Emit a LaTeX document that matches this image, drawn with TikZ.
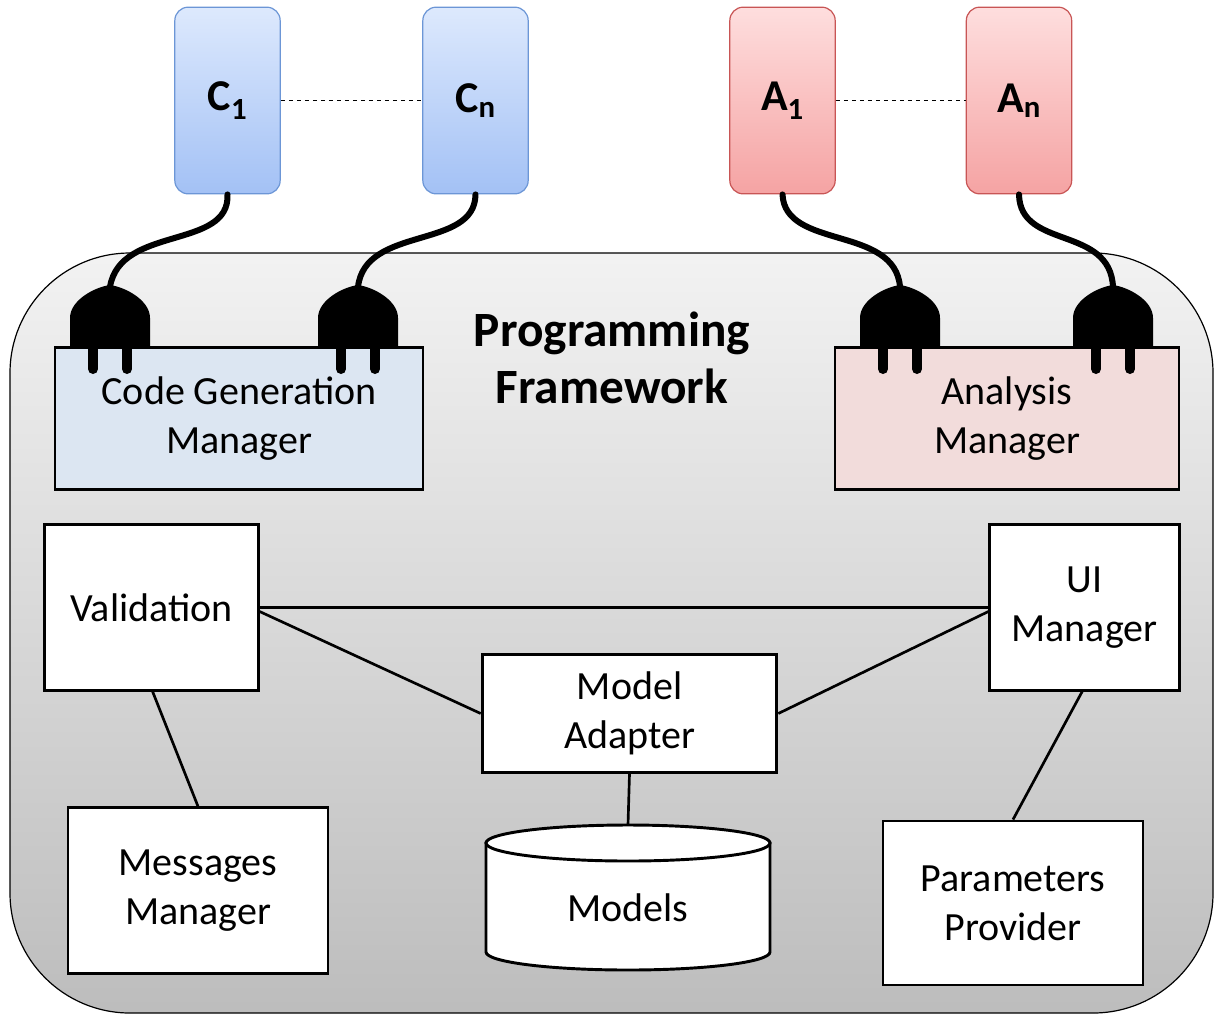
\documentclass[tikz,border=0pt]{standalone}
\usepackage{fontspec}
\setmainfont{Carlito}
\begin{document}
\begin{tikzpicture}[x=0.75pt,y=-0.75pt,
 box/.style={draw,line width=2.2pt,fill=white,align=center,font=\fontsize{30}{37}\selectfont,inner sep=0},
 mod/.style={rounded corners=10pt,line width=0.9pt,minimum width=79pt,minimum height=140pt,font=\fontsize{33}{36}\selectfont\bfseries},
 cable/.style={line width=4.5pt,line cap=round},
 link/.style={line width=2pt}]
\useasboundingbox (0,0) rectangle (1223,1022);
\definecolor{bt}{HTML}{DDE9FD}\definecolor{bb}{HTML}{A3C1F5}
\definecolor{rt}{HTML}{FEDEDE}\definecolor{rb}{HTML}{F5A3A3}
\definecolor{bd}{HTML}{6C96D6}\definecolor{rd}{HTML}{C85555}
% frame
\draw[line width=0.9pt,rounded corners=90pt,top color=black!5,bottom color=black!26] (10,253) rectangle (1213,1013);
% modules
\node[mod,draw=bd,top color=bt,bottom color=bb] (c1) at (227.5,100.5) {\raisebox{-5pt}{C$_{\mathbf 1}$}};
\node[mod,draw=bd,top color=bt,bottom color=bb] (cn) at (475.5,100.5) {\raisebox{-5pt}{C$_{\mathbf n}$}};
\node[mod,draw=rd,top color=rt,bottom color=rb] (a1) at (782.5,100.5) {\raisebox{-5pt}{A$_{\mathbf 1}$}};
\node[mod,draw=rd,top color=rt,bottom color=rb] (an) at (1019,100.5) {\raisebox{-5pt}{A$_{\mathbf n}$}};
\draw[dashed,line width=0.7pt] (c1) -- (cn);
\draw[dashed,line width=0.7pt] (a1) -- (an);
% managers
\node[box,fill={rgb,255:red,220;green,230;blue,242},minimum width=276pt,minimum height=107pt] (cgm) at (239,418.5) {Code Generation\\Manager};
\node[box,fill={rgb,255:red,242;green,220;blue,219},minimum width=258pt,minimum height=107pt] (am) at (1007,418.5) {Analysis\\Manager};
% plugs
\foreach \n/\x in {p1/110,p2/358,p3/900,p4/1113}{
 \fill (\x-40,347) -- (\x-40,318) .. controls (\x-40,300) and (\x-15,287) .. (\x,285) .. controls (\x+15,287) and (\x+40,300) .. (\x+40,318) -- (\x+40,347) -- cycle;
 \draw[line width=7.5pt,line cap=round] (\x-17,345) -- (\x-17,369) (\x+17,345) -- (\x+17,369);
 \coordinate (\n) at (\x,287);
}
\draw[cable] (c1.south) .. controls (230,250) and (120,225) .. (p1);
\draw[cable] (cn.south) .. controls (475,250) and (365,225) .. (p2);
\draw[cable] (a1.south) .. controls (785,250) and (895,225) .. (p3);
\draw[cable] (an.south) .. controls (1020,250) and (1110,225) .. (p4);
\node[font=\fontsize{37}{43}\selectfont\bfseries,align=center] (title) at (612,358) {Programming\\Framework};
% lower
\node[box,minimum width=160pt,minimum height=124pt] (val) at (151.5,607.5) {Validation};
\node[box,minimum width=142pt,minimum height=124pt] (ui) at (1084.5,607.5) {UI\\Manager};
\node[box,minimum width=221pt,minimum height=88pt] (ma) at (629.5,713.5) {Model\\Adapter};
\node[box,minimum width=195pt,minimum height=124pt] (mm) at (198,890.5) {Messages\\Manager};
\node[box,minimum width=195pt,minimum height=123pt] (pp) at (1013,903) {Parameters\\Provider};
\coordinate (mtop) at (628,825);
\draw[line width=2.2pt,fill=white] (486,843) -- (486,952) arc[start angle=180,end angle=0,x radius=142,y radius=18] -- (770,843) -- cycle;
\draw[line width=2.2pt,fill=white] (628,843) ellipse[x radius=142,y radius=18];
\node[font=\fontsize{30}{37}\selectfont] (mod) at (628,908) {Models};
\draw[link] (val.east) -- (ui.west);
\draw[link] ([yshift=-3pt]val.east) -- (ma.west);
\draw[link] ([yshift=-3pt]ui.west) -- (ma.east);
\draw[link] (152,690) -- (mm.north);
\draw[link] (ma.south) -- (mtop);
\draw[link] (1083,690) -- (pp.north);
\end{tikzpicture}
\end{document}
